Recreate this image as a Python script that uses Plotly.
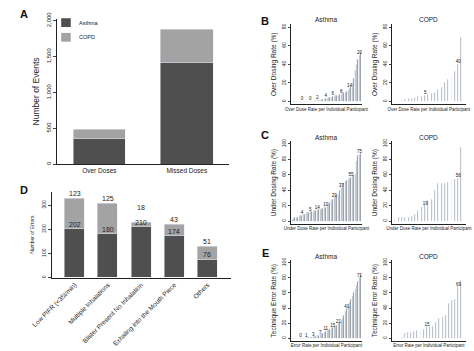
import plotly.graph_objects as go

W, H = 474, 351
FONT = "Liberation Sans, Arial, sans-serif"
DARK = "#4f4f4f"
LIGHT = "#a3a3a3"
SPIKE = "#9a9a9a"

# ---------------- data ----------------
a_categories = ["Over Doses", "Missed Doses"]
a_asthma = [360, 1420]
a_copd = [125, 450]
legend_names = ["Asthma", "COPD"]

d_categories = ["Low PIFR (<35l/min)", "Multiple Inhalations",
                "Blister Present No Inhalation", "Exhaling into the Mouth Piece", "Others"]
d_asthma = [202, 180, 210, 174, 76]
d_copd = [123, 125, 18, 43, 51]

b_asthma = [0.3, 0.3, 0.3, 0.3, 0.3, 0.3, 0.3, 0.3, 0.3, 0.3,
            0.3, 0.3, 0.3, 0.3, 0.4, 0.5, 0.6, 0.8, 1.0, 1.3,
            1.6, 2.0, 2.3, 2.7, 3.2, 3.6, 4.0, 4.4, 4.8, 5.3,
            5.7, 6.1, 6.5, 7.0, 7.5, 8.0, 8.6, 9.3, 10.0, 11.0,
            12.5, 14.0, 16.0, 19.0, 25.0, 33.0, 40.0, 45.0, 50.0, 53.0]
b_asthma_label_idx = [8, 14, 19, 25, 30, 36, 42, 49]
b_asthma_labels = ["0", "0", "2", "4", "6", "8", "14", "20"]
b_copd = [0.3, 0.5, 1, 2, 3, 3.5, 4, 5, 5.5, 6.5, 8, 9, 10, 13.5, 15,
          20.5, 24, 27, 32, 40, 69]
b_copd_label_idx = [10, 20]
b_copd_labels = ["5", "40"]

c_asthma = [2, 3, 4, 4.5, 5, 6, 7, 7.5, 8, 9,
            10, 11, 11.5, 12, 12.5, 13, 13.5, 14, 14.5, 15,
            15.5, 16, 16.5, 17, 18, 20, 22, 24, 26, 28,
            30, 32, 33, 35, 39, 43, 47, 49, 51, 53,
            54, 55, 57, 58, 59, 60, 77, 85, 86, 87]
c_asthma_label_idx = [8, 14, 19, 25, 31, 36, 43, 49]
c_asthma_labels = ["4", "5", "14", "10", "29", "37", "55", "75"]
c_copd = [1, 5, 5, 5, 5, 6.3, 9, 13.5, 17.7, 19.8, 26, 28, 39.7, 48, 48,
          48, 50, 53.5, 54.4, 55.7, 95]
c_copd_label_idx = [10, 20]
c_copd_labels = ["19", "56"]

e_asthma = [0.3, 0.3, 0.3, 0.3, 0.3, 0.3, 0.3, 0.3, 0.3, 0.3,
            0.5, 0.7, 1.0, 1.3, 1.6, 2.0, 2.4, 2.8, 3.3, 4.0,
            4.8, 5.8, 7.0, 8.0, 9.0, 10.0, 11.0, 12.0, 13.0, 14.0,
            15.0, 16.0, 17.5, 19.0, 21.0, 23.0, 26.0, 30.0, 35.0, 39.0,
            43.0, 47.0, 51.0, 55.0, 60.0, 65.0, 70.0, 75.0, 80.0, 85.0]
e_asthma_label_idx = [7, 11, 16, 21, 25, 30, 34, 40, 49]
e_asthma_labels = ["0", "1", "3", "7", "11", "15", "21", "41", "71"]
e_copd = [0.3, 0.5, 1.7, 6.5, 7.3, 8.2, 9.5, 10.8, 10.8, 11.6, 15, 15, 16,
          20.3, 26.7, 28, 29.7, 46, 50, 52, 68, 76]
e_copd_label_idx = [11, 21]
e_copd_labels = ["15", "69"]

# ---------------- helpers ----------------
def xd(x0, x1):
    return [x0 / W, x1 / W]

def yd(top, bottom):
    return [1 - bottom / H, 1 - top / H]

fig = go.Figure()

# Panel A
fig.add_trace(go.Bar(x=a_categories, y=a_asthma, name="Asthma", marker_color=DARK,
                     width=0.6, xaxis="x", yaxis="y", showlegend=False))
fig.add_trace(go.Bar(x=a_categories, y=a_copd, name="COPD", marker_color=LIGHT,
                     width=0.6, xaxis="x", yaxis="y", showlegend=False))

# Panel D
fig.add_trace(go.Bar(x=d_categories, y=d_asthma, name="Asthma", marker_color=DARK, width=0.6,
                     xaxis="x2", yaxis="y2", showlegend=False))
fig.add_trace(go.Bar(x=d_categories, y=d_copd, name="COPD", marker_color=LIGHT, width=0.6,
                     xaxis="x2", yaxis="y2", showlegend=False))

annotations = []
for cat, a, c in zip(d_categories, d_asthma, d_copd):
    annotations.append(dict(x=cat, y=a, xref="x2", yref="y2", text=str(a), showarrow=False,
                            yanchor="bottom", yshift=-1, font=dict(size=7, color="#222")))
    annotations.append(dict(x=cat, y=a + c, xref="x2", yref="y2", text=str(c), showarrow=False,
                            yanchor="bottom", yshift=(9 if c < 30 else 0),
                            font=dict(size=7, color="#222")))

small = [
    ("x3", "y3", b_asthma, b_asthma_label_idx, b_asthma_labels, True),
    ("x4", "y4", b_copd, b_copd_label_idx, b_copd_labels, False),
    ("x5", "y5", c_asthma, c_asthma_label_idx, c_asthma_labels, True),
    ("x6", "y6", c_copd, c_copd_label_idx, c_copd_labels, False),
    ("x7", "y7", e_asthma, e_asthma_label_idx, e_asthma_labels, True),
    ("x8", "y8", e_copd, e_copd_label_idx, e_copd_labels, False),
]
ranges = {}
for xa, ya, vals, lidx, ltxt, is_asthma in small:
    n = len(vals)
    idx = list(range(1, n + 1))
    if is_asthma:
        rng = [0.2, 50.8]
        fig.add_trace(go.Bar(x=idx, y=vals, marker_color="#5a5a5a", width=0.72,
                             xaxis=xa, yaxis=ya, showlegend=False))
    else:
        ppu = 69 / (n - 1)
        rng = [1 - 4 / ppu, n + 5 / ppu]
        fig.add_trace(go.Bar(x=idx, y=vals, marker_color=SPIKE, width=1.0 / ppu,
                             xaxis=xa, yaxis=ya, showlegend=False))
    ranges[xa] = rng
    fig.add_trace(go.Scatter(x=lidx, y=[vals[i - 1] for i in lidx], text=ltxt,
                             mode="text", textposition="top center",
                             textfont=dict(size=4.5, color="#111", family=FONT),
                             xaxis=xa, yaxis=ya, showlegend=False))

line = dict(showline=True, linecolor="#222", linewidth=0.8, showgrid=False, zeroline=False)

layout = dict(
    width=W, height=H, margin=dict(l=0, r=0, t=0, b=0),
    paper_bgcolor="white", plot_bgcolor="white", barmode="stack", bargap=0,
    font=dict(family=FONT, color="#222"),
    showlegend=False,
)

# A axes
layout["xaxis"] = dict(domain=xd(39, 218), range=[-0.48, 1.48], ticks="",
                       tickfont=dict(size=6.5), anchor="y", **line)
layout["yaxis"] = dict(domain=yd(11.8, 161), range=[0, 2030], tickvals=[0, 500, 1000, 1500, 2000],
                       tickformat=",", tickangle=-90, ticks="outside", ticklen=3, tickwidth=0.8,
                       tickfont=dict(size=6), anchor="x",
                       title=dict(text="Number of Events", font=dict(size=8.5), standoff=5), **line)
# D axes
layout["xaxis2"] = dict(domain=xd(33, 220), range=[-0.7, 4.7], ticks="", tickangle=-45,
                        tickfont=dict(size=6.5, color="#222"), anchor="y2", **line)
layout["yaxis2"] = dict(domain=yd(189, 277), range=[0, 355], tickvals=[0, 100, 200, 300],
                        tickangle=-90, ticks="outside", ticklen=3, tickwidth=0.8,
                        tickfont=dict(size=5), anchor="x2",
                        title=dict(text="Number of Errors", font=dict(size=5), standoff=5), **line)

rows = [
    ("x3", "y3", "x4", "y4", 17.8, 99.4, [-2.8, 83], [0, 20, 40, 60, 80],
     "Over Dosing Rate (%)", "Over Dose Rate per Individual Participant"),
    ("x5", "y5", "x6", "y6", 137.6, 221.8, [-3.5, 103], [0, 20, 40, 60, 80, 100],
     "Under Dosing Rate (%)", "Under Dose Rate per Individual Participant"),
    ("x7", "y7", "x8", "y8", 259.4, 341.7, [-3.5, 103], [0, 20, 40, 60, 80, 100],
     "Technique Error Rate (%)", "Error Rate per Individual Participant"),
]
for xa1, ya1, xa2, ya2, top, bot, yr, tv, ytitle, xtitle in rows:
    for xa, ya, (x0, x1), ttl in [(xa1, ya1, (283, 357), "Asthma"), (xa2, ya2, (388, 466), "COPD")]:
        layout["xaxis" + xa[1:]] = dict(domain=xd(x0, x1), range=ranges[xa], showticklabels=False,
                                        ticks="", anchor=ya,
                                        title=dict(text=xtitle, font=dict(size=4.5), standoff=3), **line)
        layout["yaxis" + ya[1:]] = dict(domain=yd(top, bot), range=yr, tickvals=tv, tickangle=-90,
                                        ticks="outside", ticklen=2, tickwidth=0.7,
                                        tickfont=dict(size=5), anchor=xa,
                                        title=dict(text=ytitle, font=dict(size=6.5), standoff=3), **line)
        annotations.append(dict(text=ttl, x=(x0 + x1) / 2 / W, y=1 - (top - 4.5) / H,
                                xref="paper", yref="paper", showarrow=False,
                                font=dict(size=6.5), xanchor="center", yanchor="middle"))

for letter, px, py in [("A", 4, 7), ("D", 4, 187), ("B", 256, 14), ("C", 256, 131), ("E", 256, 252)]:
    annotations.append(dict(text="<b>%s</b>" % letter, x=px / W, y=1 - py / H, xref="paper", yref="paper",
                            showarrow=False, font=dict(size=11, color="#111"),
                            xanchor="center", yanchor="middle"))

# legend keys for panel A (drawn as small squares with labels)
shapes = []
for k, (nm, col) in enumerate(zip(legend_names, [DARK, LIGHT])):
    cy = 16 + 15 * k
    shapes.append(dict(type="rect", xref="paper", yref="paper", x0=43 / W, x1=53 / W,
                       y0=1 - (cy + 4.5) / H, y1=1 - (cy - 4.5) / H, fillcolor=col, line=dict(width=0)))
    annotations.append(dict(text=nm, x=59 / W, y=1 - cy / H, xref="paper", yref="paper",
                            showarrow=False, xanchor="left", yanchor="middle",
                            font=dict(size=5.5, color="#222")))
layout["shapes"] = shapes
layout["annotations"] = annotations

fig.update_layout(**layout)
fig.write_html("out.html")
